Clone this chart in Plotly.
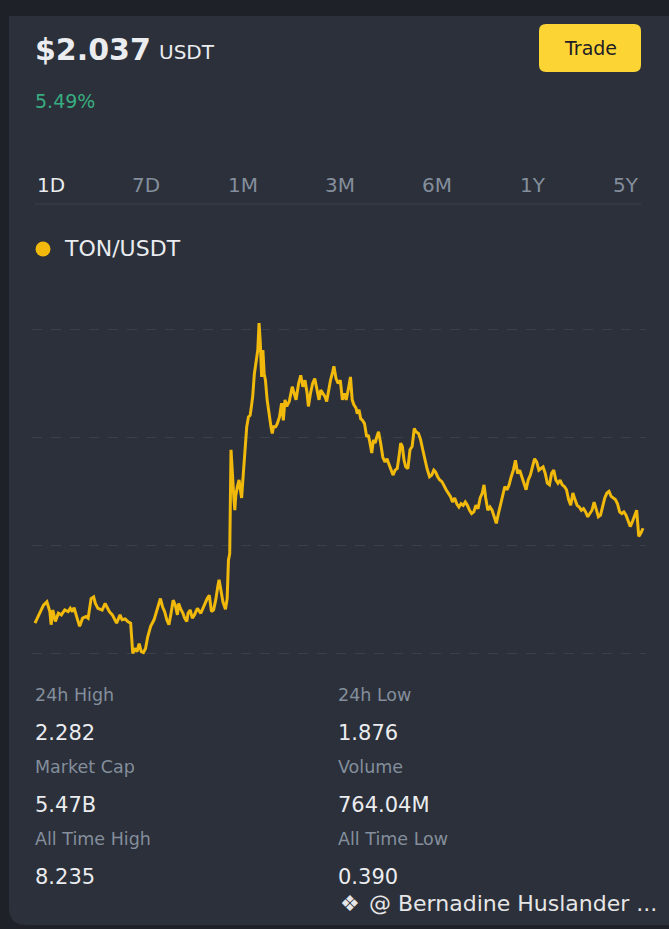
import plotly.graph_objects as go

# ---------------- data ----------------
# minutes since start of the 1D window (approx.), TON/USDT price
minutes = [
    0, 10, 20, 28, 35, 38, 42, 48, 55, 62,
    70, 78, 83, 88, 92, 98, 105, 112, 120, 125,
    132, 138, 142, 148, 158, 165, 175, 182, 188, 192,
    200, 205, 212, 218, 225, 230, 235, 240, 245, 250,
    255, 260, 265, 272, 280, 288, 295, 300, 305, 310,
    315, 320, 325, 330, 335, 338, 342, 348, 352, 357,
    360, 365, 370, 375, 382, 390, 398, 405, 410, 415,
    420, 425, 430, 433, 438, 442, 448, 452, 455, 458,
    461, 465, 468, 470, 472, 476, 480, 483, 486, 490,
    495, 498, 502, 506, 509, 512, 516, 520, 524, 527,
    530, 533, 536, 539, 542, 546, 550, 555, 558, 561,
    566, 570, 575, 580, 584, 588, 592, 598, 605, 610,
    614, 620, 625, 630, 635, 640, 643, 648, 653, 658,
    663, 668, 672, 677, 682, 686, 690, 695, 700, 703,
    708, 713, 718, 723, 728, 732, 738, 742, 746, 750,
    755, 758, 762, 766, 770, 775, 780, 784, 788, 792,
    796, 800, 804, 808, 813, 818, 823, 828, 832, 837,
    842, 847, 852, 856, 860, 864, 868, 872, 877, 882,
    887, 892, 896, 902, 907, 912, 917, 922, 928, 933,
    938, 942, 947, 952, 957, 962, 967, 972, 977, 982,
    987, 992, 997, 1002, 1007, 1012, 1017, 1022, 1027, 1032,
    1037, 1042, 1047, 1052, 1056, 1060, 1065, 1070, 1075, 1080,
    1085, 1090, 1095, 1100, 1105, 1110, 1115, 1120, 1125, 1130,
    1135, 1140, 1145, 1150, 1155, 1160, 1165, 1170, 1175, 1180,
    1185, 1190, 1195, 1200, 1205, 1210, 1215, 1220, 1225, 1230,
    1235, 1240, 1245, 1250, 1255, 1260, 1265, 1270, 1275, 1280,
    1285, 1290, 1295, 1300, 1305, 1310, 1315, 1320, 1325, 1330,
    1335, 1340, 1345, 1350, 1355, 1360, 1365, 1370, 1375, 1380,
    1385, 1390, 1395, 1400, 1405, 1410, 1415, 1420, 1425, 1430,
]
prices = [
    1.915, 1.927, 1.937, 1.941, 1.929, 1.913, 1.931, 1.917, 1.927, 1.925,
    1.931, 1.929, 1.933, 1.929, 1.934, 1.923, 1.911, 1.921, 1.923, 1.921,
    1.945, 1.947, 1.939, 1.933, 1.931, 1.939, 1.929, 1.925, 1.919, 1.915,
    1.925, 1.919, 1.920, 1.917, 1.915, 1.878, 1.884, 1.880, 1.890, 1.880,
    1.879, 1.884, 1.898, 1.911, 1.919, 1.933, 1.945, 1.935, 1.929, 1.919,
    1.913, 1.927, 1.943, 1.937, 1.925, 1.939, 1.933, 1.927, 1.921, 1.917,
    1.927, 1.931, 1.921, 1.925, 1.933, 1.927, 1.937, 1.945, 1.949, 1.929,
    1.931, 1.943, 1.960, 1.968, 1.953, 1.941, 1.932, 1.945, 1.992, 2.000,
    2.127, 2.082, 2.066, 2.053, 2.070, 2.082, 2.090, 2.078, 2.068, 2.098,
    2.135, 2.155, 2.167, 2.169, 2.180, 2.192, 2.220, 2.233, 2.249, 2.282,
    2.257, 2.216, 2.249, 2.220, 2.212, 2.188, 2.171, 2.155, 2.147, 2.155,
    2.155, 2.159, 2.167, 2.184, 2.163, 2.188, 2.180, 2.186, 2.204, 2.196,
    2.188, 2.208, 2.218, 2.204, 2.212, 2.196, 2.180, 2.196, 2.208, 2.214,
    2.200, 2.188, 2.200, 2.196, 2.192, 2.186, 2.200, 2.212, 2.222, 2.229,
    2.214, 2.208, 2.212, 2.188, 2.196, 2.188, 2.204, 2.216, 2.188, 2.182,
    2.178, 2.171, 2.176, 2.165, 2.163, 2.159, 2.143, 2.145, 2.135, 2.123,
    2.139, 2.135, 2.143, 2.149, 2.135, 2.118, 2.112, 2.116, 2.110, 2.102,
    2.096, 2.102, 2.104, 2.118, 2.135, 2.131, 2.114, 2.106, 2.104, 2.127,
    2.131, 2.153, 2.149, 2.147, 2.139, 2.127, 2.114, 2.104, 2.094, 2.096,
    2.102, 2.100, 2.094, 2.090, 2.088, 2.082, 2.078, 2.074, 2.070, 2.063,
    2.068, 2.061, 2.057, 2.061, 2.059, 2.063, 2.059, 2.053, 2.049, 2.051,
    2.059, 2.055, 2.068, 2.074, 2.084, 2.068, 2.053, 2.057, 2.053, 2.045,
    2.037, 2.049, 2.061, 2.072, 2.082, 2.078, 2.084, 2.094, 2.102, 2.114,
    2.098, 2.102, 2.094, 2.086, 2.078, 2.090, 2.096, 2.106, 2.116, 2.112,
    2.102, 2.104, 2.106, 2.098, 2.086, 2.084, 2.098, 2.102, 2.090, 2.086,
    2.090, 2.084, 2.082, 2.078, 2.066, 2.059, 2.074, 2.066, 2.059, 2.057,
    2.053, 2.055, 2.051, 2.045, 2.049, 2.053, 2.063, 2.053, 2.045, 2.047,
    2.057, 2.068, 2.074, 2.076, 2.070, 2.068, 2.066, 2.061, 2.051, 2.049,
    2.051, 2.047, 2.039, 2.033, 2.039, 2.045, 2.053, 2.021, 2.025, 2.031,
]
grid_values = [1.878, 2.010, 2.142, 2.274]

pair = "TON/USDT"
last_price = "$2.037"
quote = "USDT"
change = "5.49%"
periods = ["1D", "7D", "1M", "3M", "6M", "1Y", "5Y"]
stat_labels_left = ["24h High", "Market Cap", "All Time High"]
stat_values_left = ["2.282", "5.47B", "8.235"]
stat_labels_right = ["24h Low", "Volume", "All Time Low"]
stat_values_right = ["1.876", "764.04M", "0.390"]
watermark = "@ Bernadine Huslander ..."

# ---------------- layout helpers ----------------
W, H = 669, 929
L, R, T, B = 32, 23, 300, 249
PW, PH = W - L - R, H - T - B


def px(x):
    return (x - L) / PW


def py(y):
    return (H - B - y) / PH


FONT = "DejaVu Sans"
WHITE = "#eaecef"
GREY = "#848e9c"
YELLOW = "#f0b90b"
CARD = "#2b303a"
OUTER = "#1e2128"

fig = go.Figure()
fig.add_trace(go.Scatter(
    x=minutes, y=prices, mode="lines",
    line=dict(color=YELLOW, width=3),
    hoverinfo="skip", showlegend=False,
))

shapes = []
card_path = (
    f"M {px(9)},{py(16)} L {px(669)},{py(16)} L {px(669)},{py(925)} "
    f"L {px(26)},{py(925)} Q {px(9)},{py(925)} {px(9)},{py(908)} Z"
)
shapes.append(dict(type="path", path=card_path, xref="paper", yref="paper",
                   fillcolor=CARD, line=dict(width=0), layer="below"))
bx0, by0, bx1, by1, r = 539, 24, 641, 72, 7
btn_path = (
    f"M {px(bx0 + r)},{py(by0)} L {px(bx1 - r)},{py(by0)} Q {px(bx1)},{py(by0)} {px(bx1)},{py(by0 + r)} "
    f"L {px(bx1)},{py(by1 - r)} Q {px(bx1)},{py(by1)} {px(bx1 - r)},{py(by1)} "
    f"L {px(bx0 + r)},{py(by1)} Q {px(bx0)},{py(by1)} {px(bx0)},{py(by1 - r)} "
    f"L {px(bx0)},{py(by0 + r)} Q {px(bx0)},{py(by0)} {px(bx0 + r)},{py(by0)} Z"
)
shapes.append(dict(type="path", path=btn_path, xref="paper", yref="paper",
                   fillcolor="#fcd535", line=dict(width=0), layer="below"))
shapes.append(dict(type="line", xref="paper", yref="paper",
                   x0=px(35), x1=px(641), y0=py(204), y1=py(204),
                   line=dict(color="#363b46", width=1.5), layer="below"))
shapes.append(dict(type="circle", xref="paper", yref="paper",
                   x0=px(35.5), x1=px(50.5), y0=py(241.5), y1=py(256.5),
                   fillcolor=YELLOW, line=dict(width=0)))

ann = []


def text(x, y, s, size, color, anchor="left", bold=False):
    ann.append(dict(
        x=px(x), y=py(y), xref="paper", yref="paper", text=(f"<b>{s}</b>" if bold else s),
        showarrow=False, xanchor=anchor, yanchor="middle",
        font=dict(family=FONT, size=size, color=color),
    ))


text(33, 49, last_price, 30, WHITE, bold=True)
text(157, 52, quote, 20, WHITE)
text(33, 101, change, 19, "#38ad80")
text(590, 48, "Trade", 19, "#1e2026", anchor="center")

tab_x = [51, 146, 243, 340, 437, 533, 626]
for i, (lab, xx) in enumerate(zip(periods, tab_x)):
    text(xx, 185, lab, 20, WHITE if i == 0 else GREY, anchor="center")

text(62, 249, pair, 22, WHITE)

rows_label_y = [695, 767, 839]
rows_value_y = [733, 805, 877]
for i in range(3):
    text(33, rows_label_y[i], stat_labels_left[i], 17.5, GREY)
    text(33, rows_value_y[i], stat_values_left[i], 21, WHITE)
    text(336, rows_label_y[i], stat_labels_right[i], 17.5, GREY)
    text(336, rows_value_y[i], stat_values_right[i], 21, WHITE)

text(338, 903, "❖", 22, "#e6e6e6")
text(367, 903, watermark, 22, "#e6e6e6")

fig.update_layout(
    width=W, height=H,
    margin=dict(l=L, r=R, t=T, b=B, pad=0),
    paper_bgcolor=OUTER, plot_bgcolor=CARD,
    shapes=shapes, annotations=ann,
    xaxis=dict(range=[-7, 1437], showgrid=False, zeroline=False,
               showticklabels=False, ticks="", showline=False, fixedrange=True),
    yaxis=dict(range=[1.8454, 2.3101], tickvals=grid_values, showticklabels=False,
               showgrid=True, gridcolor="#3a3f4a", gridwidth=1, griddash="10px,9px",
               zeroline=False, ticks="", showline=False, fixedrange=True),
    showlegend=False,
)

fig.write_html("out.html", config={"displayModeBar": False})

# remove the browser's default page margin so the figure sits at (0, 0)
with open("out.html", encoding="utf-8") as f:
    html = f.read()
html = html.replace("<head>", "<head><style>html,body{margin:0;padding:0;overflow:hidden;}</style>", 1)
with open("out.html", "w", encoding="utf-8") as f:
    f.write(html)
